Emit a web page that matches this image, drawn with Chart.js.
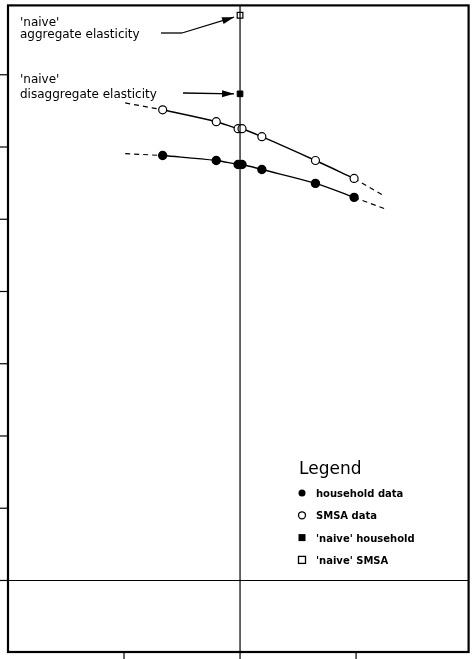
<!DOCTYPE html>
<html><head><meta charset="utf-8">
<script src="https://cdn.jsdelivr.net/npm/chart.js@4"></script>
<style>html,body{margin:0;padding:0;background:#fff}#w{width:474px;height:659px}</style>
</head><body><div id="w"><canvas id="c"></canvas></div>
<script>
// data
const smsaX = [-0.667, -0.205, -0.017, 0.017, 0.188, 0.65, 0.983];
const smsaY = [6.515, 6.35, 6.253, 6.253, 6.143, 5.813, 5.565];
const hhX = [-0.667, -0.205, -0.017, 0.017, 0.188, 0.65, 0.983];
const hhY = [5.882, 5.813, 5.758, 5.758, 5.689, 5.496, 5.303];
const smsaExtLeft = [[-0.99, 6.61], [-0.667, 6.515]];
const smsaExtRight = [[0.983, 5.565], [1.25, 5.317]];
const hhExtLeft = [[-0.99, 5.909], [-0.667, 5.882]];
const hhExtRight = [[0.983, 5.303], [1.26, 5.138]];
const naiveSMSA = [0, 7.824];
const naiveHH = [0, 6.736];
const xTicks = [-1, 0, 1];
const yTicks = [0, 1, 2, 3, 4, 5, 6, 7];

const pts = (xs, ys) => xs.map((x, i) => ({x, y: ys[i]}));
const pp = a => a.map(p => ({x: p[0], y: p[1]}));
const F = '"DejaVu Sans", sans-serif';

const deco = {
  id: 'deco',
  afterDatasetsDraw(ch) {
    const c = ch.ctx, a = ch.chartArea, xs = ch.scales.x, ys = ch.scales.y;
    c.save();
    c.strokeStyle = '#000'; c.fillStyle = '#000';
    c.lineWidth = 1.2;
    const x0 = xs.getPixelForValue(0), y0 = ys.getPixelForValue(0);
    c.beginPath(); c.moveTo(x0, a.top); c.lineTo(x0, a.bottom); c.stroke();
    c.beginPath(); c.moveTo(a.left, y0); c.lineTo(a.right, y0); c.stroke();
    yTicks.forEach(t => { const y = ys.getPixelForValue(t); c.beginPath(); c.moveTo(0, y); c.lineTo(a.left, y); c.stroke(); });
    xTicks.forEach(t => { const x = xs.getPixelForValue(t); c.beginPath(); c.moveTo(x, a.bottom); c.lineTo(x, a.bottom + 8); c.stroke(); });
    c.lineWidth = 2.2;
    c.strokeRect(a.left, a.top, a.right - a.left, a.bottom - a.top);
    // annotations
    c.font = '12px ' + F; c.textBaseline = 'alphabetic';
    c.fillText("'naive'", 20, 26);
    c.fillText('aggregate elasticity', 20, 38);
    c.fillText("'naive'", 20, 83);
    c.fillText('disaggregate elasticity', 20, 98);
    const arrow = (x1, y1, x2, y2) => {
      c.lineWidth = 1.3;
      c.beginPath(); c.moveTo(x1, y1); c.lineTo(x2, y2); c.stroke();
      const ang = Math.atan2(y2 - y1, x2 - x1), L = 12, W = 3.5;
      c.beginPath(); c.moveTo(x2, y2);
      c.lineTo(x2 - L * Math.cos(ang) + W * Math.sin(ang), y2 - L * Math.sin(ang) - W * Math.cos(ang));
      c.lineTo(x2 - L * Math.cos(ang) - W * Math.sin(ang), y2 - L * Math.sin(ang) + W * Math.cos(ang));
      c.closePath(); c.fill();
    };
    const sx = xs.getPixelForValue(naiveSMSA[0]), sy = ys.getPixelForValue(naiveSMSA[1]);
    c.lineWidth = 1.3;
    c.beginPath(); c.moveTo(161, 33); c.lineTo(182, 33); c.stroke();
    arrow(182, 33, sx - 6, sy + 2);
    const hx = xs.getPixelForValue(naiveHH[0]), hy = ys.getPixelForValue(naiveHH[1]);
    arrow(183, 93, hx - 6, hy);
    // legend
    c.font = '17px ' + F; c.fillText('Legend', 299, 474);
    c.font = 'bold 10px ' + F;
    const items = ['household data', 'SMSA data', "'naive' household", "'naive' SMSA"];
    items.forEach((t, i) => {
      const y = 493 + i * 22.3;
      c.fillText(t, 316, y + 4);
      c.lineWidth = 1.3;
      if (i === 0) { c.beginPath(); c.arc(302, y, 3.5, 0, 7); c.fill(); }
      if (i === 1) { c.beginPath(); c.arc(302, y, 3.5, 0, 7); c.stroke(); }
      if (i === 2) c.fillRect(298.5, y - 3.5, 7, 7);
      if (i === 3) c.strokeRect(298.5, y - 3.5, 7, 7);
    });
    c.restore();
  }
};

const dashed = (d) => ({data: pp(d), borderColor: '#000', borderWidth: 1.2, borderDash: [5, 4], pointRadius: 0, showLine: true, fill: false});
new Chart(document.getElementById('c'), {
  type: 'scatter',
  data: {datasets: [
    {data: pts(smsaX, smsaY), showLine: true, tension: 0.35, borderColor: '#000', borderWidth: 1.4, pointRadius: 4, pointBackgroundColor: '#fff', pointBorderColor: '#000', pointBorderWidth: 1.2},
    {data: pts(hhX, hhY), showLine: true, tension: 0.35, borderColor: '#000', borderWidth: 1.4, pointRadius: 4, pointBackgroundColor: '#000', pointBorderColor: '#000'},
    dashed(smsaExtLeft), dashed(smsaExtRight), dashed(hhExtLeft), dashed(hhExtRight),
    {data: [{x: naiveSMSA[0], y: naiveSMSA[1]}], pointStyle: 'rect', pointRadius: 4, pointBackgroundColor: '#fff', pointBorderColor: '#000', pointBorderWidth: 1.2},
    {data: [{x: naiveHH[0], y: naiveHH[1]}], pointStyle: 'rect', pointRadius: 4, pointBackgroundColor: '#000', pointBorderColor: '#000'}
  ]},
  options: {
    responsive: true, maintainAspectRatio: false, animation: false,
    layout: {padding: {left: 8, right: 1, top: 2, bottom: 7}},
    plugins: {legend: {display: false}, tooltip: {enabled: false}},
    scales: {
      x: {type: 'linear', min: -2, max: 1.97, display: false},
      y: {type: 'linear', min: -0.99, max: 7.96, display: false}
    }
  },
  plugins: [deco]
});
</script></body></html>
